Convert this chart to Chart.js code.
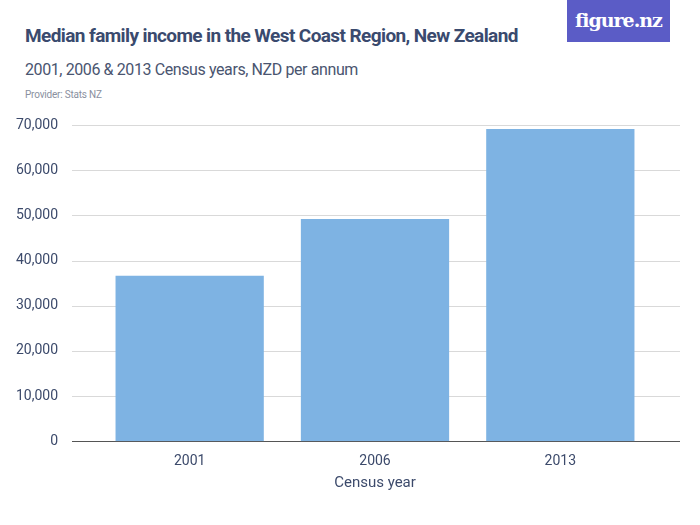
<!DOCTYPE html>
<html><head><meta charset="utf-8">
<script src="https://cdn.jsdelivr.net/npm/chart.js@4"></script>
<style>
body{margin:0;width:700px;height:525px;background:#fff;position:relative;overflow:hidden;font-family:"Roboto",sans-serif;color:#3c4a6b}
#t{position:absolute;left:25px;top:24px;font-size:19px;font-weight:bold;color:#3a4a6e;letter-spacing:-0.6px}
#s{position:absolute;left:25px;top:60px;font-size:16px;color:#4a5570;letter-spacing:-0.4px}
#p{position:absolute;left:25px;top:89px;font-size:10px;color:#8a90a0;letter-spacing:-0.2px}
#logo{position:absolute;left:567px;top:0;width:103px;height:42px;background:#5b5cc6;color:#fff;font-size:19px;font-weight:bold;text-align:center;line-height:40px;font-family:"DejaVu Serif",serif;letter-spacing:-1px;z-index:2}
canvas{position:absolute;left:0;top:0}
</style></head><body>
<div id="t">Median family income in the West Coast Region, New Zealand</div>
<div id="s">2001, 2006 &amp; 2013 Census years, NZD per annum</div>
<div id="p">Provider: Stats NZ</div>
<div id="logo">figure.nz</div>
<canvas id="c" width="700" height="525"></canvas>
<script>
const categories=["2001","2006","2013"];
const incomes=[36600,49200,69100];
const yTicks=[0,10000,20000,30000,40000,50000,60000,70000];
const F='"Roboto",sans-serif';
const grid={id:'grid',beforeDatasetsDraw(ch){const y=ch.scales.y,c=ch.ctx;c.save();
 yTicks.forEach(v=>{const py=Math.round(y.getPixelForValue(v))+0.5;c.strokeStyle=v===0?'#555':'#d9d9d9';c.lineWidth=1;c.beginPath();c.moveTo(72,py);c.lineTo(680,py);c.stroke();});c.restore();}};
new Chart(document.getElementById('c'),{type:'bar',
data:{labels:categories,datasets:[{data:incomes,backgroundColor:'#7eb3e3',categoryPercentage:1,barPercentage:0.8}]},
options:{responsive:false,animation:false,
layout:{padding:{top:125,right:47,bottom:29,left:0}},
plugins:{legend:{display:false},tooltip:{enabled:false}},
scales:{
x:{grid:{display:false},border:{display:false},ticks:{color:'#3c4a6b',font:{family:F,size:14},padding:4},
 title:{display:true,text:'Census year',color:'#3c4a6b',font:{family:F,size:15},padding:{top:0}}},
y:{min:0,max:70000,afterFit(s){s.width=97;},afterBuildTicks(s){s.ticks=yTicks.map(v=>({value:v}));},
 grid:{display:false},border:{display:false},
 ticks:{padding:31,color:'#3c4a6b',font:{family:F,size:14},callback:v=>v.toLocaleString('en-US')}}}},
plugins:[grid]});
</script></body></html>
